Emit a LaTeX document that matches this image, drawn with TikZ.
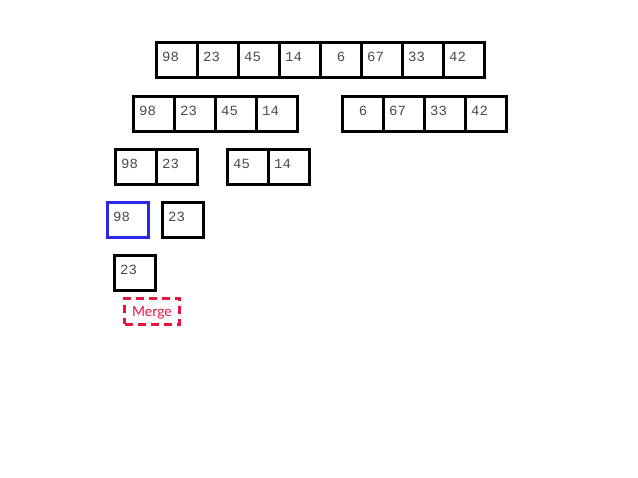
\documentclass[tikz,border=0pt]{standalone}
\usepackage{fontspec}
\newfontfamily\monof{Liberation Mono}
\newfontfamily\latof{Lato}
\definecolor{mred}{RGB}{232,20,62}
\definecolor{mblue}{RGB}{40,40,230}
\begin{document}
\begin{tikzpicture}[x=1pt,y=-1pt,
  cellbox/.style={draw=black,line width=3pt},
  num/.style={anchor=west,font=\monof\fontsize{14}{14}\selectfont,text=black!70,inner sep=0pt}]
\useasboundingbox[fill=white] (0,0) rectangle (638,478);
\newcommand\cellrow[4]{%
  \foreach \v [count=\i] in {#4}{
    \pgfmathsetmacro\xx{#2+(\i-1)*41}
    \node[cellbox,minimum width=41pt,minimum height=35pt,anchor=north west,inner sep=0pt] (#1\i) at (\xx,#3) {};
    \node[num] (#1t\i) at ([xshift=7pt,yshift=3pt]#1\i.west) {\v};
  }}
\cellrow{a}{155}{41}{98,23,45,14,{\ \,6},67,33,42}
\cellrow{b}{132}{95}{98,23,45,14}
\cellrow{c}{341}{95}{{\ \,6},67,33,42}
\cellrow{d}{114}{148}{98,23}
\cellrow{e}{226}{148}{45,14}
\node[draw=mblue,line width=3pt,minimum width=41pt,minimum height=35pt,anchor=north west] (f1) at (106,201) {};
\node[num] (ft1) at ([xshift=7pt,yshift=3pt]f1.west) {98};
\cellrow{g}{161}{201}{23}
\cellrow{h}{113}{254}{23}
\node[draw=mred,dash pattern=on 8pt off 5pt,line width=3pt,minimum width=55pt,minimum height=26pt,anchor=north west,inner sep=0pt] (m) at (123,297) {};
\node[font=\latof\fontsize{14}{14}\selectfont,text=mred] (mt) at ([yshift=-1pt]m.center) {Merge};
\end{tikzpicture}
\end{document}
